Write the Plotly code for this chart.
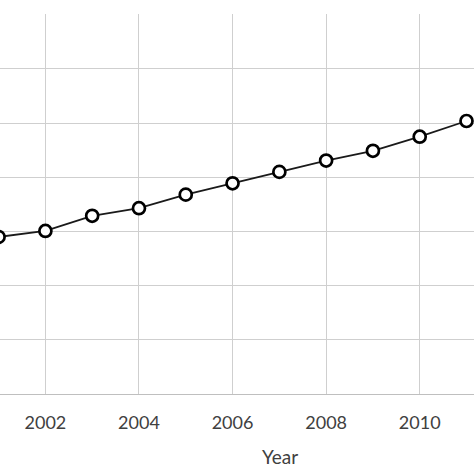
import plotly.graph_objects as go

years = [2001, 2002, 2003, 2004, 2005, 2006, 2007, 2008, 2009, 2010, 2011]
values = [2.90, 3.01, 3.29, 3.43, 3.68, 3.89, 4.10, 4.31, 4.49, 4.75, 5.04]
x_ticks = [2002, 2004, 2006, 2008, 2010]

fig = go.Figure()
fig.add_trace(
    go.Scatter(
        x=years,
        y=values,
        mode="lines+markers",
        line=dict(color="#1a1a1a", width=1.8),
        marker=dict(size=12, color="white", line=dict(color="black", width=2.7)),
        showlegend=False,
    )
)

fig.update_layout(
    width=474,
    height=474,
    margin=dict(l=0, r=0, t=14, b=80),
    plot_bgcolor="white",
    paper_bgcolor="white",
    font=dict(family="Lato", color="#404040", size=18),
)
fig.update_xaxes(
    range=[2001.03, 2011.16],
    tickvals=x_ticks,
    ticktext=[str(t) for t in x_ticks],
    showgrid=True,
    gridcolor="#cfcfcf",
    gridwidth=1,
    showline=True,
    linecolor="#bfbfbf",
    linewidth=1,
    zeroline=False,
    ticks="",
    ticklabelstandoff=12,
)
fig.update_yaxes(
    range=[0, 7.015],
    dtick=1,
    showticklabels=False,
    showgrid=True,
    gridcolor="#cfcfcf",
    gridwidth=1,
    zeroline=False,
)
fig.add_annotation(
    text="Year",
    xref="paper",
    yref="paper",
    x=279.5 / 474,
    y=-0.2,
    showarrow=False,
    font=dict(size=19, color="#404040"),
)

# page body has an 8px default margin; drop it so the figure sits at 0,0
fig.write_html(
    "out.html",
    config={"displayModeBar": False},
    post_script="document.body.style.margin='0';",
)
